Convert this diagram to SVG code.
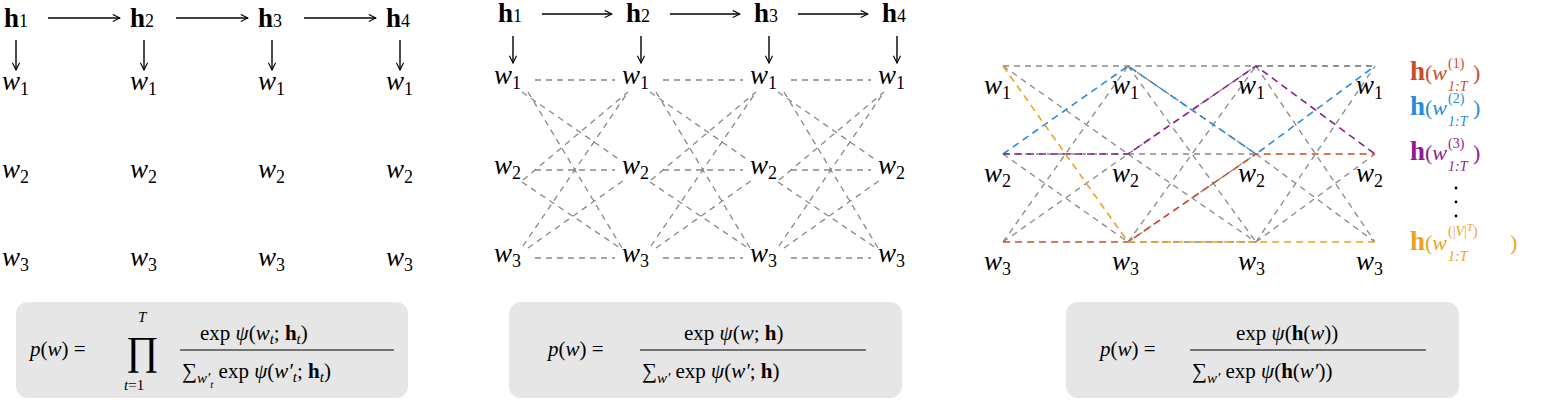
<svg xmlns="http://www.w3.org/2000/svg" width="1546" height="403" viewBox="0 0 1546 403">
<style>
text{font-family:"Liberation Serif",serif;fill:#000}
.w{font-size:27px;font-style:italic}
.s{font-size:18px;font-style:normal}
.h{font-size:27px;font-weight:bold}
.f{font-size:21px}
.fs{font-size:15px}
.a{stroke:#000;stroke-width:1.4;fill:none}
.g{stroke:#888;stroke-width:1.3;stroke-dasharray:6 5;fill:none}
.box{fill:#e6e6e6}
</style>
<defs><marker id="ar" viewBox="0 0 10 10" refX="9" refY="5" markerWidth="9" markerHeight="9" orient="auto" markerUnits="userSpaceOnUse"><path d="M1,1 L9,5 L1,9" fill="none" stroke="#000" stroke-width="1.2"/></marker></defs>

<g id="panel1">
<text class="h" x="4" y="27">h<tspan class="s" font-weight="normal">1</tspan></text>
<text class="h" x="130" y="27">h<tspan class="s" font-weight="normal">2</tspan></text>
<text class="h" x="258" y="27">h<tspan class="s" font-weight="normal">3</tspan></text>
<text class="h" x="386" y="27">h<tspan class="s" font-weight="normal">4</tspan></text>
<text class="w" x="2" y="90">w<tspan class="s" dy="5">1</tspan></text>
<text class="w" x="130" y="90">w<tspan class="s" dy="5">1</tspan></text>
<text class="w" x="258" y="90">w<tspan class="s" dy="5">1</tspan></text>
<text class="w" x="386" y="90">w<tspan class="s" dy="5">1</tspan></text>
<text class="w" x="2" y="178">w<tspan class="s" dy="5">2</tspan></text>
<text class="w" x="130" y="178">w<tspan class="s" dy="5">2</tspan></text>
<text class="w" x="258" y="178">w<tspan class="s" dy="5">2</tspan></text>
<text class="w" x="386" y="178">w<tspan class="s" dy="5">2</tspan></text>
<text class="w" x="2" y="266">w<tspan class="s" dy="5">3</tspan></text>
<text class="w" x="130" y="266">w<tspan class="s" dy="5">3</tspan></text>
<text class="w" x="258" y="266">w<tspan class="s" dy="5">3</tspan></text>
<text class="w" x="386" y="266">w<tspan class="s" dy="5">3</tspan></text>
</g>

<g id="panel2">
<text class="h" x="498" y="22">h<tspan class="s" font-weight="normal">1</tspan></text>
<text class="h" x="626" y="22">h<tspan class="s" font-weight="normal">2</tspan></text>
<text class="h" x="754" y="22">h<tspan class="s" font-weight="normal">3</tspan></text>
<text class="h" x="882" y="22">h<tspan class="s" font-weight="normal">4</tspan></text>
<text class="w" x="494" y="84">w<tspan class="s" dy="5">1</tspan></text>
<text class="w" x="622" y="84">w<tspan class="s" dy="5">1</tspan></text>
<text class="w" x="750" y="84">w<tspan class="s" dy="5">1</tspan></text>
<text class="w" x="878" y="84">w<tspan class="s" dy="5">1</tspan></text>
<text class="w" x="494" y="174">w<tspan class="s" dy="5">2</tspan></text>
<text class="w" x="622" y="174">w<tspan class="s" dy="5">2</tspan></text>
<text class="w" x="750" y="174">w<tspan class="s" dy="5">2</tspan></text>
<text class="w" x="878" y="174">w<tspan class="s" dy="5">2</tspan></text>
<text class="w" x="494" y="262">w<tspan class="s" dy="5">3</tspan></text>
<text class="w" x="622" y="262">w<tspan class="s" dy="5">3</tspan></text>
<text class="w" x="750" y="262">w<tspan class="s" dy="5">3</tspan></text>
<text class="w" x="878" y="262">w<tspan class="s" dy="5">3</tspan></text>
</g>

<g id="panel3">
<text class="w" x="984" y="94">w<tspan class="s" dy="5">1</tspan></text>
<text class="w" x="1112" y="94">w<tspan class="s" dy="5">1</tspan></text>
<text class="w" x="1238" y="94">w<tspan class="s" dy="5">1</tspan></text>
<text class="w" x="1356" y="94">w<tspan class="s" dy="5">1</tspan></text>
<text class="w" x="984" y="182">w<tspan class="s" dy="5">2</tspan></text>
<text class="w" x="1112" y="182">w<tspan class="s" dy="5">2</tspan></text>
<text class="w" x="1238" y="182">w<tspan class="s" dy="5">2</tspan></text>
<text class="w" x="1356" y="182">w<tspan class="s" dy="5">2</tspan></text>
<text class="w" x="984" y="270">w<tspan class="s" dy="5">3</tspan></text>
<text class="w" x="1112" y="270">w<tspan class="s" dy="5">3</tspan></text>
<text class="w" x="1238" y="270">w<tspan class="s" dy="5">3</tspan></text>
<text class="w" x="1356" y="270">w<tspan class="s" dy="5">3</tspan></text>
</g>

<g id="legend">
<text x="1410" y="80" fill="#cf4a2b" style="fill:#cf4a2b"><tspan class="h" font-size="22">h</tspan><tspan font-size="22">(</tspan><tspan font-size="22" font-style="italic">w</tspan><tspan font-size="14" x="1448" y="68">(1)</tspan><tspan font-size="14" font-style="italic" x="1448" y="91">1:T</tspan><tspan font-size="22" x="1473" y="80">)</tspan></text>
<text x="1410" y="115" style="fill:#2a8bd9"><tspan class="h" font-size="22">h</tspan><tspan font-size="22">(</tspan><tspan font-size="22" font-style="italic">w</tspan><tspan font-size="14" x="1448" y="103">(2)</tspan><tspan font-size="14" font-style="italic" x="1448" y="126">1:T</tspan><tspan font-size="22" x="1473" y="115">)</tspan></text>
<text x="1410" y="160" style="fill:#8e1c8e"><tspan class="h" font-size="22">h</tspan><tspan font-size="22">(</tspan><tspan font-size="22" font-style="italic">w</tspan><tspan font-size="14" x="1448" y="148">(3)</tspan><tspan font-size="14" font-style="italic" x="1448" y="171">1:T</tspan><tspan font-size="22" x="1473" y="160">)</tspan></text>
<circle cx="1456" cy="188" r="1.4"/><circle cx="1456" cy="202" r="1.4"/><circle cx="1456" cy="216" r="1.4"/>
<text x="1410" y="250" style="fill:#eca226"><tspan class="h" font-size="22">h</tspan><tspan font-size="22">(</tspan><tspan font-size="22" font-style="italic">w</tspan><tspan font-size="14" x="1448" y="236">(|<tspan font-style="italic">V</tspan>|<tspan font-size="11" dy="-5" font-style="italic">T</tspan><tspan dy="5">)</tspan></tspan><tspan font-size="14" font-style="italic" x="1448" y="261">1:T</tspan><tspan font-size="22" x="1510" y="250">)</tspan></text>
</g>

<g id="connectors">
<g class="a" marker-end="url(#ar)">
<line x1="48" y1="18" x2="120" y2="18"/><line x1="176" y1="18" x2="248" y2="18"/><line x1="304" y1="18" x2="376" y2="18"/>
<line x1="16" y1="40" x2="16" y2="70"/><line x1="144" y1="40" x2="144" y2="70"/><line x1="272" y1="40" x2="272" y2="70"/><line x1="400" y1="40" x2="400" y2="70"/>
<line x1="542" y1="14" x2="612" y2="14"/><line x1="670" y1="14" x2="740" y2="14"/><line x1="798" y1="14" x2="868" y2="14"/>
<line x1="513" y1="36" x2="513" y2="63"/><line x1="641" y1="36" x2="641" y2="63"/><line x1="769" y1="36" x2="769" y2="63"/><line x1="897" y1="36" x2="897" y2="63"/>
</g>
<g class="g">
<!-- panel2 -->
<path d="M535,80H615M663,80H743M791,80H871M535,170H615M663,170H743M791,170H871M535,258H615M663,258H743M791,258H871"/>
<path d="M522,92L620,160M528,92L622,248M523,180L628,92M522,182L620,248M523,246L628,92M528,248L624,180
M650,92L748,160M656,92L750,248M651,180L756,92M650,182L748,248M651,246L756,92M656,248L752,180
M778,92L876,160M784,92L878,248M779,180L884,92M778,182L876,248M779,246L884,92M784,248L880,180"/>
<!-- panel3 gray -->
<path d="M1003,66H1375M1128,154H1256M1256,242H1128"/>
<path d="M1003,66L1128,154M1003,154L1128,242M1003,242L1128,154M1003,242L1128,66M1003,154L1128,154"/>
<path d="M1128,66L1256,242M1128,154L1256,66M1128,154L1256,242M1128,242L1256,66M1128,242L1256,154M1128,66L1256,154"/>
<path d="M1256,66L1375,242M1256,154L1375,242M1256,242L1375,66M1256,242L1375,154M1256,66L1375,66"/>
</g>
<g fill="none" stroke-width="1.6" stroke-dasharray="7 5">
<path d="M1003,242H1128L1256,154H1375" stroke="#cf4a2b"/>
<path d="M1003,154L1128,66L1256,154L1375,66" stroke="#2a8bd9"/>
<path d="M1003,154H1128L1256,66L1375,154" stroke="#8e1c8e"/>
<path d="M1003,66L1128,242H1375" stroke="#eca226"/>
</g>
</g>

<g id="formula1">
<rect class="box" x="16" y="302" width="392" height="96" rx="12"/>
<text class="f" x="30" y="356"><tspan font-style="italic">p</tspan>(<tspan font-style="italic">w</tspan>) = </text>
<text x="126" y="364" font-size="40">∏</text>
<text class="fs" x="138" y="322" font-style="italic">T</text>
<text class="fs" x="124" y="390"><tspan font-style="italic">t</tspan>=1</text>
<line x1="180" y1="350" x2="394" y2="350" stroke="#000" stroke-width="1.2"/>
<text class="f" x="200" y="340">exp <tspan font-style="italic">ψ</tspan>(<tspan font-style="italic">w</tspan><tspan class="fs" font-style="italic" dy="4">t</tspan><tspan dy="-4">; </tspan><tspan font-weight="bold">h</tspan><tspan class="fs" font-style="italic" dy="4">t</tspan><tspan dy="-4">)</tspan></text>
<text class="f" x="182" y="378">∑<tspan class="fs" font-style="italic" dy="5">w′</tspan><tspan font-size="11" font-style="italic" dy="5">t</tspan><tspan dy="-10"> exp </tspan><tspan font-style="italic">ψ</tspan>(<tspan font-style="italic">w′</tspan><tspan class="fs" font-style="italic" dy="4">t</tspan><tspan dy="-4">; </tspan><tspan font-weight="bold">h</tspan><tspan class="fs" font-style="italic" dy="4">t</tspan><tspan dy="-4">)</tspan></text>
</g>

<g id="formula2">
<rect class="box" x="509" y="302" width="393" height="96" rx="12"/>
<text class="f" x="548" y="356"><tspan font-style="italic">p</tspan>(<tspan font-style="italic">w</tspan>) =</text>
<line x1="640" y1="350" x2="866" y2="350" stroke="#000" stroke-width="1.2"/>
<text class="f" x="684" y="340">exp <tspan font-style="italic">ψ</tspan>(<tspan font-style="italic">w</tspan>; <tspan font-weight="bold">h</tspan>)</text>
<text class="f" x="642" y="378">∑<tspan class="fs" font-style="italic" dy="5">w′</tspan><tspan dy="-5"> exp </tspan><tspan font-style="italic">ψ</tspan>(<tspan font-style="italic">w′</tspan>; <tspan font-weight="bold">h</tspan>)</text>
</g>

<g id="formula3">
<rect class="box" x="1066" y="302" width="393" height="96" rx="12"/>
<text class="f" x="1100" y="356"><tspan font-style="italic">p</tspan>(<tspan font-style="italic">w</tspan>) =</text>
<line x1="1190" y1="350" x2="1426" y2="350" stroke="#000" stroke-width="1.2"/>
<text class="f" x="1236" y="340">exp <tspan font-style="italic">ψ</tspan>(<tspan font-weight="bold">h</tspan>(<tspan font-style="italic">w</tspan>))</text>
<text class="f" x="1192" y="378">∑<tspan class="fs" font-style="italic" dy="5">w′</tspan><tspan dy="-5"> exp </tspan><tspan font-style="italic">ψ</tspan>(<tspan font-weight="bold">h</tspan>(<tspan font-style="italic">w′</tspan>))</text>
</g>
</svg>
